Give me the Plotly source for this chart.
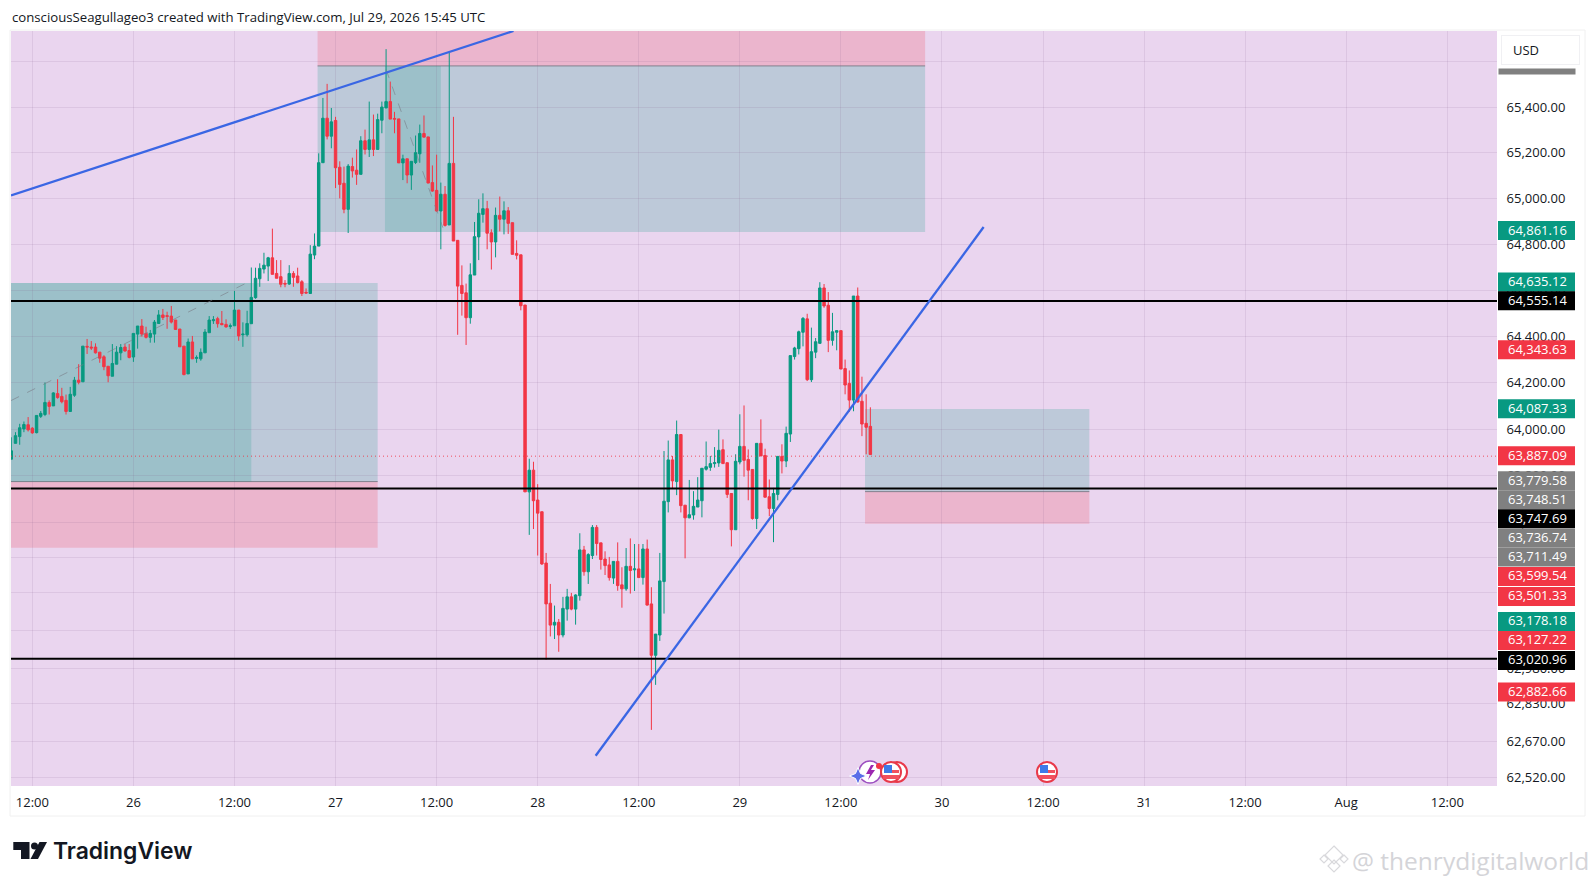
import math
import pandas as pd
import plotly.graph_objects as go

# ---- data (30-minute candles, USD) ----
first_candle = "2026-07-25 09:30"
opens = [
63867,63935,63964,63997,64015,64000,63981,64051,64059,64111,
64096,64149,64137,64120,64072,64142,64207,64200,64353,64350,
64350,64328,64308,64267,64224,64276,64325,64350,64335,64307,
64406,64441,64409,64392,64406,64452,64489,64486,64484,64467,
64428,64354,64234,64372,64301,64299,64325,64412,64464,64473,
64452,64448,64439,64442,64510,64403,64403,64451,64564,64646,
64688,64701,64737,64669,64655,64626,64623,64669,64658,64633,
64587,64582,64749,
64788,65152,65347,65268,65337,65132,65062,64948,65135,65119,
65101,65248,65210,65252,65210,65338,65392,65420,65346,65344,
65151,65169,65098,65153,65191,65280,65265,65065,65031,64941,
65014,64880,65149,64813,64617,64585,64477,64662,64828,64926,
64951,64846,64806,64922,64905,64942,64890,64756,64750,64532,
63727,63820,63692,63642,63423,63252,63159,63171,63117,63227,
63279,63227,63284,63479,63386,63455,63575,63509,63440,63415,
63359,63430,63330,63313,63409,63394,63398,63361,63483,63249,
63031,63117,63344,63685,63864,63771,63973,63670,63616,63628,
63662,63689,63824,63832,63848,63851,63908,
63852,63720,63565,63855,63922,63866,63823,63613,63935,63883,
63706,63656,63716,63879,63859,63975,64309,64343,64414,64472,
64209,64328,64366,64606,64531,64379,64414,64421,64257,64193,
64121,64571,64116,64021,64008]
highs = [
63961,63983,64019,64029,64048,64005,64055,64074,64197,64120,
64155,64211,64174,64145,64178,64221,64276,64354,64385,64376,
64366,64328,64315,64267,64363,64354,64363,64363,64363,64409,
64441,64471,64438,64424,64467,64510,64515,64503,64528,64467,
64428,64354,64387,64398,64314,64344,64428,64484,64484,64481,
64506,64470,64452,64593,64510,64457,64507,64695,64694,64713,
64759,64741,64864,64727,64727,64640,64705,64679,64694,64640,
64604,64792,64843,
65193,65436,65498,65392,65353,65158,65135,65146,65174,65210,
65268,65297,65420,65363,65367,65420,65651,65508,65375,65344,
65187,65169,65158,65271,65319,65359,65265,65140,65187,65065,
65050,65635,65353,64813,64704,64625,64713,64893,64992,65018,
64985,64861,64956,65004,64983,64958,64890,64813,64750,64532,
63869,63856,63760,63642,63466,63334,63242,63185,63279,63313,
63296,63290,63550,63496,63465,63585,63585,63509,63473,63449,
63430,63511,63405,63487,63528,63504,63504,63504,63523,63320,
63121,63466,63902,63947,63881,64033,63973,63670,63778,63730,
63790,63828,63943,63881,63919,63994,63952,
63852,63720,63888,64060,64098,63909,63823,63935,64038,63912,
63780,63744,63879,63931,64007,64313,64351,64421,64480,64494,
64434,64389,64631,64623,64588,64498,64421,64421,64296,64249,
64571,64608,64222,64146,64090]
lows = [
63867,63935,63929,63983,63986,63976,63978,64044,64052,64059,
64096,64127,64107,64059,64072,64135,64189,64200,64320,64337,
64322,64282,64250,64198,64224,64276,64293,64330,64301,64286,
64343,64395,64387,64369,64369,64450,64467,64429,64452,64426,
64351,64228,64234,64299,64282,64291,64325,64412,64450,64434,
64444,64434,64429,64442,64377,64351,64395,64451,64559,64611,
64669,64636,64665,64648,64609,64609,64619,64611,64626,64571,
64582,64582,64731,
64788,65152,65254,65215,65041,64996,64931,64845,65087,65055,
65101,65188,65177,65181,65210,65281,65392,65343,65281,65151,
65076,65062,65033,65146,65152,65264,65062,65025,64938,64774,
64873,64880,64810,64403,64486,64359,64451,64662,64727,64890,
64774,64686,64739,64852,64839,64841,64752,64730,64509,63727,
63543,63568,63455,63415,63012,63111,63100,63046,63107,63178,
63222,63161,63263,63369,63334,63440,63455,63395,63372,63348,
63334,63305,63233,63305,63293,63304,63361,63331,63242,62716,
62906,63092,63208,63639,63739,63713,63639,63443,63614,63608,
63662,63618,63818,63817,63831,63834,63848,
63701,63494,63565,63845,63792,63691,63608,63568,63881,63704,
63623,63512,63691,63806,63833,63941,64296,64318,64353,64203,
64199,64302,64366,64520,64328,64356,64336,64255,64146,64070,
64073,64110,63966,63888,63887]
closes = [
63903,63968,64002,64016,63993,63980,64055,64064,64111,64094,
64152,64132,64114,64072,64146,64207,64198,64354,64350,64346,
64325,64302,64265,64226,64279,64328,64348,64333,64305,64409,
64441,64406,64392,64409,64458,64489,64478,64483,64458,64426,
64351,64231,64372,64299,64305,64327,64415,64467,64468,64451,
64447,64437,64442,64510,64398,64406,64452,64565,64648,64691,
64705,64737,64665,64648,64622,64623,64669,64652,64629,64582,
64584,64753,64788,
65152,65347,65268,65331,65130,65057,64948,65137,65116,65101,
65248,65210,65252,65210,65341,65396,65420,65343,65343,65151,
65169,65098,65158,65196,65280,65264,65063,65028,64941,65014,
64878,65149,64810,64614,64582,64477,64663,64829,64931,64951,
64844,64806,64922,64905,64942,64887,64752,64748,64529,63727,
63820,63689,63636,63419,63249,63159,63171,63117,63230,63279,
63227,63287,63479,63386,63459,63575,63506,63438,63412,63361,
63430,63327,63313,63409,63391,63398,63361,63483,63244,63031,
63121,63347,63687,63864,63774,63973,63668,63616,63629,63665,
63692,63828,63835,63848,63852,63905,63848,
63716,63565,63858,63922,63862,63820,63613,63935,63881,63704,
63656,63720,63879,63859,63978,64313,64346,64416,64474,64209,
64330,64373,64606,64528,64379,64416,64421,64255,64186,64121,
64571,64113,64018,64004,63887]

price_ticks = [65600,65400,65200,65000,64800,64600,64400,64200,64000,63800,63600,63450,63300,63140,62980,62830,62670,62520]
time_ticks = ["2026-07-25 12:00","2026-07-26 00:00","2026-07-26 12:00","2026-07-27 00:00","2026-07-27 12:00",
              "2026-07-28 00:00","2026-07-28 12:00","2026-07-29 00:00","2026-07-29 12:00","2026-07-30 00:00",
              "2026-07-30 12:00","2026-07-31 00:00","2026-07-31 12:00","2026-08-01 00:00","2026-08-01 12:00"]
time_labels = ["12:00","26","12:00","27","12:00","28","12:00","29","12:00","30","12:00","31","12:00","Aug","12:00"]

level_prices = [64553, 63745, 63020.96]
last_price = 63884

# position tools: start, end, top, entry, bottom, start of the active (greener) part, end of it
pos_start = ["2026-07-25 09:00", "2026-07-26 21:52", "2026-07-29 14:52"]
pos_end   = ["2026-07-27 05:00", "2026-07-29 22:00", "2026-07-30 17:30"]
pos_green_top  = [64631, 65581, 64087]
pos_entry      = [63775, 64853, 63732]
pos_red_bottom = [63492, 65740, 63595]
pos_entry_line = [63775, 65581, 63732]
active_start = ["2026-07-25 09:00", "2026-07-27 05:52"]
active_end   = ["2026-07-26 14:00", "2026-07-27 12:30"]
active_top   = [64631, 65581]
active_bot   = [63775, 64853]

trend_a_t = ["2026-07-25 09:28", "2026-07-27 21:08"]
trend_a_p = [65013, 65735]
trend_b_t = ["2026-07-28 06:53", "2026-07-30 04:57"]
trend_b_p = [62611, 64875]
path_a_t = ["2026-07-25 09:28", "2026-07-26 13:30"]
path_a_p = [64123, 64633]
path_b_t = ["2026-07-27 06:00", "2026-07-27 12:45"]
path_b_p = [65565, 64872]

tag_texts = ["64,861.16","64,635.12","64,555.14","64,343.63","64,087.33","63,887.09","63,779.58","63,748.51",
             "63,747.69","63,736.74","63,711.49","63,599.54","63,501.33","63,178.18","63,127.22","63,020.96","62,882.66"]
tag_kinds = ["g","g","k","r","g","r","n","n","k","n","n","r","r","g","r","k","r"]
tag_y_px  = [230.5,282,300.7,349.7,408.7,455.7,480.7,499.7,518.7,538,557,576.4,596.4,621.4,640.4,660.4,692]

# ---- style and layout ----
W, H = 1596, 885
L, R, T, B = 11, 1497, 31, 786
GREEN, RED = "#089981", "#f23645"
TAG = {"g": "#089981", "r": "#f23645", "k": "#000000", "n": "#808080"}
BG = "#ead5ef"
INK = "#131722"
FONT = "Open Sans"
READ_SHIFT = 4   # candle readings sat about one pixel under the price scale

def px(x): return (x - L) / (R - L)
def py(y): return 1 - (y - T) / (B - T)

times = pd.date_range(first_candle, periods=len(closes), freq="30min")
fig = go.Figure()
fig.add_trace(go.Candlestick(
    x=times,
    open=[v + READ_SHIFT for v in opens], high=[v + READ_SHIFT for v in highs],
    low=[v + READ_SHIFT for v in lows], close=[v + READ_SHIFT for v in closes],
    increasing=dict(line=dict(color=GREEN, width=1), fillcolor=GREEN),
    decreasing=dict(line=dict(color=RED, width=1), fillcolor=RED),
    whiskerwidth=0, hoverinfo="skip", showlegend=False))

def line(tt, pp, color, width, dash="solid"):
    fig.add_trace(go.Scatter(x=tt, y=pp, mode="lines", hoverinfo="skip", showlegend=False,
                             line=dict(color=color, width=width, dash=dash)))

t_left, t_right = "2026-07-25 09:28", "2026-08-01 17:54"
for p in level_prices:
    line([t_left, t_right], [p, p], "#000000", 2)
line([t_left, t_right], [last_price, last_price], "rgba(242,54,69,0.85)", 1, "1px,3px")
line(path_a_t, path_a_p, "rgba(120,123,134,0.6)", 1, "dash")
line(path_b_t, path_b_p, "rgba(120,123,134,0.6)", 1, "dash")
line(trend_a_t, trend_a_p, "#3a66e4", 2.3)
line(trend_b_t, trend_b_p, "#3a66e4", 2.3)

shapes = []
def zone(x0, x1, y0, y1, fill, layer="below"):
    shapes.append(dict(type="rect", xref="x", yref="y", x0=x0, x1=x1, y0=y0, y1=y1,
                       fillcolor=fill, line=dict(width=0), layer=layer))
for s, e, top, en, bot, eline in zip(pos_start, pos_end, pos_green_top, pos_entry, pos_red_bottom, pos_entry_line):
    zone(s, e, en, top, "rgba(8,153,129,0.2)")
    if bot > top:
        zone(s, e, top, bot, "rgba(242,54,69,0.2)")
    else:
        zone(s, e, bot, en, "rgba(242,54,69,0.2)")
    shapes.append(dict(type="line", xref="x", yref="y", x0=s, x1=e, y0=eline, y1=eline,
                       line=dict(color="rgba(120,123,134,0.9)", width=1), layer="below"))
for s, e, top, bot in zip(active_start, active_end, active_top, active_bot):
    zone(s, e, bot, top, "rgba(8,153,129,0.18)")

def prect(x0, y0, x1, y1, fill, line_color=None, lw=0, layer="above"):
    shapes.append(dict(type="rect", xref="paper", yref="paper", x0=px(x0), x1=px(x1), y0=py(y1), y1=py(y0),
                       fillcolor=fill, line=dict(color=line_color or fill, width=lw), layer=layer))
def pcircle(cx, cy, r, fill, color, lw):
    shapes.append(dict(type="circle", xref="paper", yref="paper", x0=px(cx-r), x1=px(cx+r), y0=py(cy+r), y1=py(cy-r),
                       fillcolor=fill, line=dict(color=color, width=lw), layer="above"))
def ppoly(points, fill, color=None, lw=0):
    d = "M " + " L ".join(f"{px(a):.5f},{py(b):.5f}" for a, b in points) + " Z"
    shapes.append(dict(type="path", xref="paper", yref="paper", path=d, fillcolor=fill,
                       line=dict(color=color or fill, width=lw), layer="above"))

# page frame
shapes.append(dict(type="rect", xref="paper", yref="paper", x0=px(10), x1=px(1585), y0=py(816), y1=py(30),
                   fillcolor="rgba(0,0,0,0)", line=dict(color="#f0f0f0", width=1), layer="below"))

def flag(cx, cy):
    pcircle(cx, cy, 10, "#ffffff", "#e8394a", 2)
    prect(cx-8, cy+3, cx+8, cy+7, "#f0505e")
    prect(cx+1, cy-2, cx+8, cy+1, "#f0505e")
    prect(cx-7, cy-7, cx+1, cy+1, "#3d7ae8")

pcircle(897, 772, 10, "#ffffff", "#e8394a", 2)
pcircle(870, 772, 11, "#ffffff", "#9c4fc0", 1.5)
ppoly([(871,765),(866,774),(870,774),(868,780),(875,770),(871,770),(874,765)], "#9c27b0")
ppoly([(858,767.5),(860.5,773.5),(866.5,776),(860.5,778.5),(858,784.5),(855.5,778.5),(849.5,776),(855.5,773.5)], "#5a6ee8", "#ffffff", 1)
pcircle(879, 766, 3, "#f23645", "#f23645", 0)
flag(891, 772)
flag(1047, 772)

# logo
ppoly([(13.3,842),(29.5,842),(29.5,859),(21,859),(21,850),(13.3,850)], "#131722")
pcircle(34.5, 846, 3.5, "#131722", "#131722", 0)
ppoly([(39.5,842),(47,842),(38,859),(30.5,859)], "#131722")

# watermark mark
WM = "#d9d9dc"
def diamond(cx, cy, r):
    ppoly([(cx,cy-r),(cx+r,cy),(cx,cy+r),(cx-r,cy)], "rgba(0,0,0,0)", WM, 1.2)
diamond(1334, 855, 9); diamond(1334, 866, 6); diamond(1324, 859, 4); diamond(1344, 859, 4)

anns = []
# scale chrome sits above the hidden tick text behind it
anns.append(dict(xref="paper", yref="paper", x=px(1498), y=py(66), xanchor="left", yanchor="middle",
                 text=" ", showarrow=False, width=78, height=5, bgcolor="#ffffff", font=dict(size=1)))
anns.append(dict(xref="paper", yref="paper", x=px(1501), y=py(50), xanchor="left", yanchor="middle",
                 text=" ", showarrow=False, width=75, height=26, bgcolor="#ffffff",
                 bordercolor="#f0f0f3", borderwidth=1))
anns.append(dict(xref="paper", yref="paper", x=px(1498), y=py(71.8), xanchor="left", yanchor="middle",
                 text=" ", showarrow=False, width=74, height=3, bgcolor="#808080", font=dict(size=1)))
for text, kind, yp in zip(tag_texts, tag_kinds, tag_y_px):
    shapes.append(dict(type="rect", xref="paper", yref="paper", x0=px(1498), x1=px(1575), y0=py(yp+9.5), y1=py(yp-9.5),
                       fillcolor=TAG[kind], line=dict(width=0), layer="above"))
    anns.append(dict(xref="paper", yref="paper", x=px(1536.5), y=py(yp), text=text, showarrow=False,
                     xanchor="center", yanchor="middle", xshift=1, yshift=1,
                     font=dict(family=FONT, size=13, color="#ffffff")))
def label(x, y, text, size, color=INK, family=FONT, anchor="left", weight=None):
    f = dict(family=family, size=size, color=color)
    if weight: f["weight"] = weight
    anns.append(dict(xref="paper", yref="paper", x=px(x), y=py(y), text=text, showarrow=False,
                     xanchor=anchor, yanchor="middle", font=f))
label(9.5, 17, "consciousSeagullageo3 created with TradingView.com, Jul 29, 2026 15:45 UTC", 13.2)
label(1511, 50, "USD", 13)
label(50.5, 851, "TradingView", 22.9, family="Inter", weight=600)
label(1350, 860, "@ thenrydigitalworld", 24.5, color="#d4d4d8", family="Open Sans")

k = math.log10
fig.update_layout(
    width=W, height=H, autosize=False,
    margin=dict(l=L, r=W-R, t=T, b=H-B, pad=0),
    paper_bgcolor="#ffffff", plot_bgcolor=BG,
    boxgap=0.42, boxgroupgap=0, showlegend=False,
    shapes=shapes, annotations=anns,
    font=dict(family=FONT, size=13, color=INK),
    xaxis=dict(type="date", range=[t_left, t_right], rangeslider=dict(visible=False),
               tickmode="array", tickvals=time_ticks, ticktext=time_labels,
               showgrid=True, gridcolor="rgba(120,80,130,0.12)", gridwidth=1, zeroline=False,
               ticks="outside", ticklen=4, tickcolor="rgba(0,0,0,0)", tickangle=0,
               tickfont=dict(family=FONT, size=13, color=INK), showline=False),
    yaxis=dict(type="log", side="right", range=[k(62484), k(65735)],
               tickmode="array", tickvals=price_ticks, ticktext=[f"{v:,.2f}" for v in price_ticks],
               showgrid=True, gridcolor="rgba(120,80,130,0.12)", gridwidth=1, zeroline=False,
               ticks="outside", ticklen=6, tickcolor="rgba(0,0,0,0)",
               tickfont=dict(family=FONT, size=13, color=INK), showline=False),
)
fig.write_html("out.html", config=dict(displayModeBar=False),
               post_script="document.body.style.margin='0';document.body.style.overflow='hidden';")
